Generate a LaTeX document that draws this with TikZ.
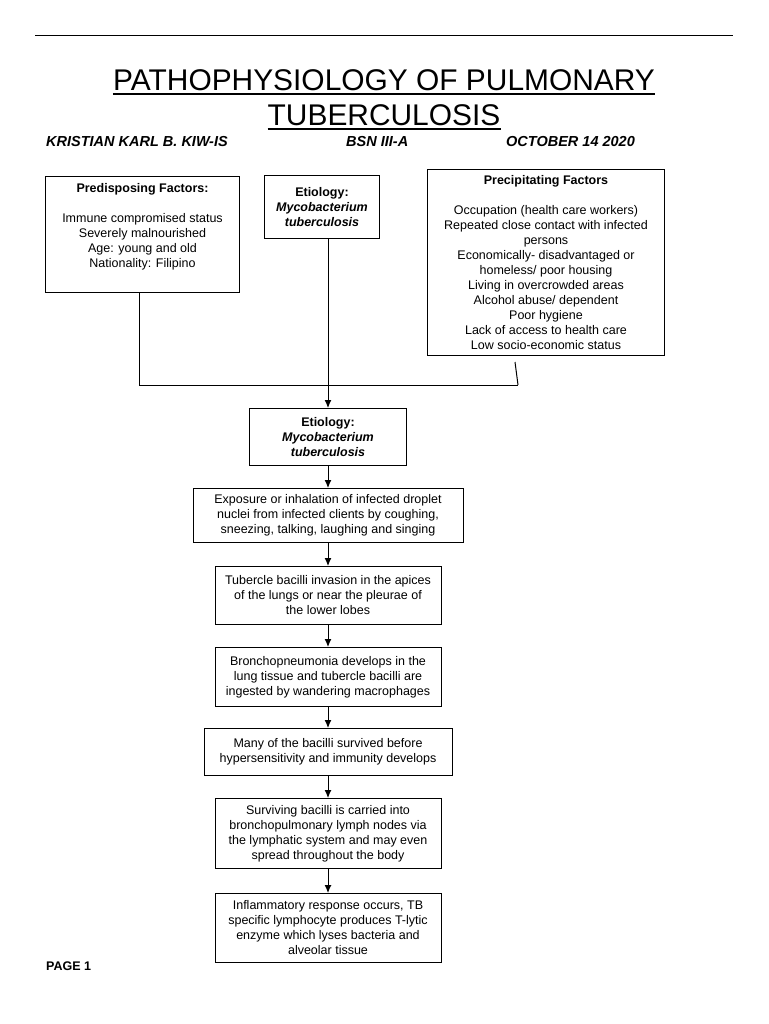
\documentclass[tikz,border=0pt]{standalone}
\usepackage{fontspec}
\setmainfont{Liberation Sans}
\usetikzlibrary{positioning,arrows.meta}

\newcommand{\bodyfont}{\fontsize{12.5}{15}\selectfont}
\newcommand{\titlefont}{\fontsize{29.9}{35}\selectfont}
\newcommand{\authorfont}{\fontsize{14.5}{17}\selectfont\bfseries\itshape}

\tikzset{
    box/.style={draw, line width=1pt, align=center, inner sep=0pt, font=\bodyfont},
    flow/.style={-{Latex[length=8pt,width=7pt]}, line width=1pt},
    link/.style={line width=1pt},
}

\begin{document}
\begin{tikzpicture}[x=1pt, y=-1pt, node distance=22pt]
        \useasboundingbox (0,0) rectangle (768,1024);
        % header
        \draw[line width=1pt] (35,36) -- (733,36);
        \node[anchor=base, inner sep=0pt, font=\titlefont] (title1) at (384,91) {PATHOPHYSIOLOGY OF PULMONARY};
        \node[anchor=base, inner sep=0pt, font=\titlefont] (title2) at (384,126) {TUBERCULOSIS};
        \draw[line width=1.2pt] ([yshift=-3pt]title1.base west) -- ([yshift=-3pt]title1.base east);
        \draw[line width=1.2pt] ([yshift=-3pt]title2.base west) -- ([yshift=-3pt]title2.base east);
        \node[anchor=base west, inner sep=0pt, font=\authorfont] (author) at (46,147) {KRISTIAN KARL B. KIW-IS};
        \node[anchor=base west, inner sep=0pt, font=\authorfont] (course) at (346,147) {BSN III-A};
        \node[anchor=base west, inner sep=0pt, font=\authorfont] (date) at (506,147) {OCTOBER 14 2020};

        % factors
        \node[box, anchor=north west, minimum width=194pt, minimum height=116pt] (pre) at (45,176)
            {\textbf{Predisposing Factors:}\\[15pt]
             Immune compromised status\\
             Severely malnourished\\
             Age: young and old\\
             Nationality: Filipino\\[4pt]\mbox{}};
        \node[box, anchor=north west, minimum width=115pt, minimum height=63pt] (etio1) at (264,175)
            {\textbf{Etiology:}\\ \textbf{\textit{Mycobacterium}}\\ \textbf{\textit{tuberculosis}}};
        \node[box, anchor=north west, minimum width=237pt, minimum height=186pt] (precip) at (427,169)
            {\textbf{Precipitating Factors}\\[15pt]
             Occupation (health care workers)\\
             Repeated close contact with infected\\
             persons\\
             Economically- disadvantaged or\\
             homeless/ poor housing\\
             Living in overcrowded areas\\
             Alcohol abuse/ dependent\\
             Poor hygiene\\
             Lack of access to health care\\
             Low socio-economic status};

        % flow
        \node[box, anchor=north west, minimum width=157pt, minimum height=57pt] (etio2) at (249,408)
            {\textbf{Etiology:}\\ \textbf{\textit{Mycobacterium}}\\ \textbf{\textit{tuberculosis}}};
        \node[box, below=of etio2, minimum width=270pt, minimum height=54pt] (expo)
            {Exposure or inhalation of infected droplet\\
             nuclei from infected clients by coughing,\\
             sneezing, talking, laughing and singing};
        \node[box, below=23pt of expo, minimum width=226pt, minimum height=58pt] (invade)
            {Tubercle bacilli invasion in the apices\\
             of the lungs or near the pleurae of\\
             the lower lobes};
        \node[box, below=of invade, minimum width=226pt, minimum height=59pt] (broncho)
            {Bronchopneumonia develops in the\\
             lung tissue and tubercle bacilli are\\
             ingested by wandering macrophages};
        \node[box, below=21pt of broncho, minimum width=248pt, minimum height=47pt] (survive)
            {Many of the bacilli survived before\\
             hypersensitivity and immunity develops};
        \node[box, below=of survive, minimum width=226pt, minimum height=70pt] (lymph)
            {Surviving bacilli is carried into\\
             bronchopulmonary lymph nodes via\\
             the lymphatic system and may even\\
             spread throughout the body};
        \node[box, below=24pt of lymph, minimum width=226pt, minimum height=69pt] (inflam)
            {Inflammatory response occurs, TB\\
             specific lymphocyte produces T-lytic\\
             enzyme which lyses bacteria and\\
             alveolar tissue};

        % connectors
        \coordinate (joinR) at (518,385);
        \coordinate (precipEnd) at (515,362);
        \draw[link] ([xshift=-3pt]pre.south) |- (joinR);
        \draw[link] (precipEnd) -- (joinR);
        \draw[flow] (etio1.south -| etio2.north) -- (etio2.north);
        \foreach \a/\b in {etio2/expo, expo/invade, invade/broncho, broncho/survive, survive/lymph, lymph/inflam}
            \draw[flow] (\a) -- (\b);

        \node[anchor=base west, inner sep=0pt, font=\bodyfont\bfseries] (page) at (46,970) {PAGE 1};
\end{tikzpicture}
\end{document}
